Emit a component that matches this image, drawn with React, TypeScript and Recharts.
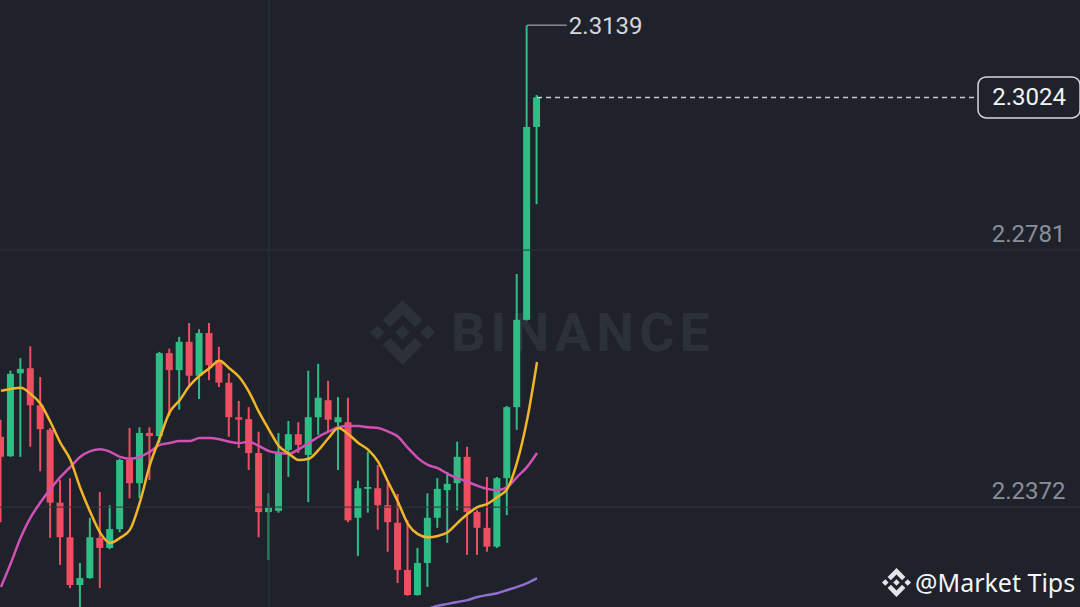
import {
  ComposedChart,
  Bar,
  Line,
  XAxis,
  YAxis,
  ReferenceLine,
} from 'recharts';

// 55 candles (oldest -> newest)
const opens = [
  2.2484, 2.2453, 2.2585, 2.2593, 2.2534, 2.2495, 2.2379, 2.2324, 2.2248, 2.2259,
  2.2323, 2.2307, 2.2337, 2.2447, 2.241, 2.249, 2.2485, 2.2617, 2.259, 2.2635,
  2.2581, 2.2649, 2.2606, 2.257, 2.2515, 2.2512, 2.2458, 2.2364, 2.2366, 2.2463,
  2.2488, 2.2455, 2.2515, 2.2542, 2.2507, 2.2507, 2.2355, 2.2401, 2.2402, 2.2375,
  2.2347, 2.2272, 2.2232, 2.2283, 2.2355, 2.2399, 2.241, 2.2452, 2.2364, 2.2339,
  2.2309, 2.2418, 2.2531, 2.267, 2.2977,
];
const closes = [
  2.2452, 2.2584, 2.2592, 2.2534, 2.2496, 2.2379, 2.2324, 2.2248, 2.2259, 2.2324,
  2.2307, 2.2337, 2.2447, 2.241, 2.249, 2.2485, 2.2617, 2.259, 2.2635, 2.2581,
  2.2649, 2.2598, 2.257, 2.2515, 2.2511, 2.2458, 2.2364, 2.2371, 2.246, 2.2488,
  2.2471, 2.2515, 2.2546, 2.2511, 2.2515, 2.2351, 2.2402, 2.2404, 2.2375, 2.2348,
  2.2272, 2.2232, 2.2283, 2.2355, 2.2401, 2.2409, 2.2452, 2.2364, 2.2339, 2.2309,
  2.2418, 2.2531, 2.267, 2.2977, 2.3024,
];
const highs = [
  2.2511, 2.2589, 2.2609, 2.2628, 2.2579, 2.2498, 2.2415, 2.2418, 2.2283, 2.2355,
  2.2396, 2.2375, 2.2449, 2.2498, 2.2499, 2.2499, 2.2619, 2.2624, 2.2643, 2.2665,
  2.2655, 2.2665, 2.2627, 2.2585, 2.2541, 2.2531, 2.2492, 2.2394, 2.249, 2.2509,
  2.2507, 2.2589, 2.26, 2.2573, 2.2547, 2.2546, 2.2414, 2.246, 2.2439, 2.241,
  2.2393, 2.2351, 2.2307, 2.2394, 2.2418, 2.2428, 2.2476, 2.2468, 2.2367, 2.242,
  2.242, 2.2533, 2.2743, 2.3139, 2.3028,
];
const lows = [
  2.2348, 2.2452, 2.2452, 2.2468, 2.2429, 2.2323, 2.228, 2.2243, 2.2208, 2.2258,
  2.2243, 2.2305, 2.2332, 2.2386, 2.2386, 2.2415, 2.2474, 2.2517, 2.2527, 2.2566,
  2.2544, 2.2574, 2.2563, 2.2484, 2.2466, 2.2431, 2.2324, 2.2288, 2.2363, 2.242,
  2.2458, 2.238, 2.2487, 2.2492, 2.2431, 2.2348, 2.2294, 2.2363, 2.2336, 2.2301,
  2.2251, 2.2231, 2.2231, 2.2245, 2.2339, 2.2315, 2.2367, 2.2296, 2.2296, 2.2301,
  2.2307, 2.2359, 2.2495, 2.2669, 2.2854,
];

// moving average lines as drawn on the screenshot
const maFast = [
  2.2557, 2.256, 2.2562, 2.2552, 2.2536, 2.2507, 2.2474, 2.2447, 2.2402, 2.2364,
  2.2331, 2.2315, 2.2323, 2.2336, 2.238, 2.2439, 2.2482, 2.2523, 2.2542, 2.2565,
  2.2581, 2.2593, 2.2605, 2.2593, 2.2579, 2.2555, 2.2523, 2.2495, 2.2469, 2.2457,
  2.2447, 2.2449, 2.2463, 2.2482, 2.2498, 2.2488, 2.2474, 2.2463, 2.2444, 2.2412,
  2.238, 2.2345, 2.2329, 2.2324, 2.2326, 2.2332, 2.2347, 2.2361, 2.2372, 2.2377,
  2.2388, 2.2401, 2.2444, 2.2511, 2.2603,
];
const maMid = [
  2.2245, 2.2283, 2.2324, 2.2356, 2.238, 2.2401, 2.242, 2.2436, 2.2452, 2.2461,
  2.2464, 2.246, 2.2452, 2.2449, 2.2452, 2.246, 2.2471, 2.2474, 2.2477, 2.2477,
  2.2482, 2.2482, 2.248, 2.2476, 2.2474, 2.2476, 2.2469, 2.2461, 2.2458, 2.2457,
  2.2464, 2.2474, 2.2484, 2.2492, 2.2499, 2.2501, 2.2501, 2.2499, 2.2498, 2.2492,
  2.2484, 2.2466, 2.245, 2.2439, 2.2434, 2.2425, 2.2418, 2.2412, 2.2406, 2.2401,
  2.2399, 2.2404, 2.242, 2.2436, 2.2458,
];
// slow MA only enters the visible window near the right end
const maSlowStart = 42;
const maSlow = [
  2.2205, 2.221, 2.2215, 2.2218, 2.2221, 2.2224, 2.2229, 2.2232, 2.2235, 2.224,
  2.2245, 2.2251, 2.2259,
];

const gridPrices = [2.2781, 2.2372];
const watermark = 'BINANCE';
const footer = '@Market Tips';

const SLOTS = 110; // candles + empty room on the right
const Y_DOMAIN = [2.2213, 2.3179];

const BG = '#1f222b';
const GRID = '#2e323b';
const UP = '#2ebd85';
const DOWN = '#ef4d62';
const FONT = 'Roboto, "Noto Sans", sans-serif';

const lastIdx = closes.length - 1;
const lastPrice = closes[lastIdx];
const highIdx = highs.indexOf(Math.max(...highs));
const highPrice = highs[highIdx];

const data = Array.from({ length: SLOTS }, (_, i) => {
  const has = i < opens.length;
  return {
    i,
    range: has ? [lows[i], highs[i]] : null,
    open: has ? opens[i] : null,
    close: has ? closes[i] : null,
    high: has ? highs[i] : null,
    low: has ? lows[i] : null,
    maFast: has ? maFast[i] : null,
    maMid: has ? maMid[i] : null,
    maSlow:
      i >= maSlowStart && i - maSlowStart < maSlow.length ? maSlow[i - maSlowStart] : null,
  };
});

function Candle(props: any) {
  const { x, y, width, height, payload } = props;
  if (!payload || payload.high == null || !Number.isFinite(y)) return null;
  const { open, close, high, low } = payload;
  const top = Math.min(y, y + height);
  const span = Math.abs(height);
  const toY = (p: number) => (high === low ? top : top + ((high - p) / (high - low)) * span);
  const color = close >= open ? UP : DOWN;
  const bodyTop = toY(Math.max(open, close));
  const bodyBottom = toY(Math.min(open, close));
  const cx = x + width / 2;
  return (
    <g>
      <line x1={cx} x2={cx} y1={top} y2={top + span} stroke={color} strokeWidth={2} />
      <rect
        x={x}
        y={bodyTop}
        width={width}
        height={Math.max(bodyBottom - bodyTop, 1.5)}
        fill={color}
      />
    </g>
  );
}

function gridLabel(props: any, text: string) {
  const vb = props.viewBox;
  return (
    <text
      x={vb.x + vb.width - 22.5}
      y={vb.y - 8}
      textAnchor="end"
      fill="#8a8e97"
      fontSize={24}
      fontFamily={FONT}
    >
      {text}
    </text>
  );
}

function priceBox(props: any) {
  const vb = props.viewBox;
  const right = vb.x + vb.width - 3;
  const w = 102;
  const h = 41;
  return (
    <g>
      <rect
        x={right - w}
        y={vb.y - h / 2}
        width={w}
        height={h}
        rx={8}
        fill={BG}
        stroke="#d6d8dc"
        strokeWidth={1.5}
      />
      <text
        x={right - w / 2}
        y={vb.y + 8}
        textAnchor="middle"
        fill="#f2f3f5"
        fontSize={24}
        fontFamily={FONT}
      >
        {lastPrice.toFixed(4)}
      </text>
    </g>
  );
}

function highLabel(props: any) {
  const vb = props.viewBox;
  return (
    <text
      x={vb.x + vb.width + 2}
      y={vb.y + 8.5}
      fill="#d4d6da"
      fontSize={24}
      fontFamily={FONT}
    >
      {highPrice.toFixed(4)}
    </text>
  );
}

function Logo({ size, color }: { size: number; color: string }) {
  return (
    <svg width={size} height={size} viewBox="0 0 24 24">
      <g fill={color}>
        <polygon points="12,0 19.35,7.35 16.63,10.07 12,5.44 7.37,10.07 4.65,7.35" />
        <polygon points="12,24 19.35,16.65 16.63,13.93 12,18.56 7.37,13.93 4.65,16.65" />
        <polygon points="2.72,9.28 5.43,12 2.72,14.72 0,12" />
        <polygon points="21.28,9.28 24,12 21.28,14.72 18.57,12" />
        <polygon points="12,9.28 14.72,12 12,14.72 9.28,12" />
      </g>
    </svg>
  );
}

export default function App() {
  return (
    <div
      style={{
        position: 'fixed',
        left: 0,
        top: 0,
        width: 1080,
        height: 607,
        overflow: 'hidden',
        background: BG,
      }}
    >
      <div
        style={{
          position: 'absolute',
          left: 370,
          top: 300,
          display: 'flex',
          alignItems: 'center',
          gap: 16,
        }}
      >
        <Logo size={65} color="#2c3039" />
        <span
          style={{
            fontFamily: FONT,
            fontWeight: 700,
            fontSize: 54,
            letterSpacing: 5,
            color: '#2c3039',
          }}
        >
          {watermark}
        </span>
      </div>

      <div style={{ position: 'absolute', left: -4.5, top: 0 }}>
        <ComposedChart
          width={1092}
          height={607}
          data={data}
          margin={{ top: 0, right: 0, bottom: 0, left: 0 }}
        >
          <XAxis dataKey="i" type="category" hide />
          <YAxis type="number" domain={Y_DOMAIN} allowDataOverflow hide />
          <ReferenceLine x={27} stroke={GRID} strokeWidth={1} />
          {gridPrices.map((p) => (
            <ReferenceLine
              key={p}
              y={p}
              stroke={GRID}
              strokeWidth={1}
              label={(props: any) => gridLabel(props, p.toFixed(4))}
            />
          ))}
          <Bar
            dataKey="range"
            barSize={7}
            shape={(props: any) => <Candle {...props} />}
            isAnimationActive={false}
          />
          <Line
            type="monotone"
            dataKey="maSlow"
            stroke="#8f6fcf"
            strokeWidth={2.5}
            dot={false}
            activeDot={false}
            isAnimationActive={false}
          />
          <Line
            type="monotone"
            dataKey="maMid"
            stroke="#d24fb4"
            strokeWidth={2.5}
            dot={false}
            activeDot={false}
            isAnimationActive={false}
          />
          <Line
            type="monotone"
            dataKey="maFast"
            stroke="#f2b52a"
            strokeWidth={2.5}
            dot={false}
            activeDot={false}
            isAnimationActive={false}
          />
          <ReferenceLine
            segment={[
              { x: lastIdx, y: lastPrice },
              { x: SLOTS - 1, y: lastPrice },
            ]}
            stroke="#c9cbd0"
            strokeWidth={1.5}
            strokeDasharray="5 4"
            label={priceBox}
          />
          <ReferenceLine
            segment={[
              { x: highIdx, y: highPrice },
              { x: highIdx + 4, y: highPrice },
            ]}
            stroke="#b9bcc2"
            strokeWidth={1}
            label={highLabel}
          />
        </ComposedChart>
      </div>

      <div
        style={{
          position: 'absolute',
          left: 882,
          top: 566,
          display: 'flex',
          alignItems: 'center',
          gap: 4,
        }}
      >
        <Logo size={29} color="#e4e5e8" />
        <span
          style={{
            fontFamily: '"Noto Sans", sans-serif',
            fontSize: 25,
            color: '#f4f5f7',
            lineHeight: '32px',
          }}
        >
          {footer}
        </span>
      </div>
    </div>
  );
}
